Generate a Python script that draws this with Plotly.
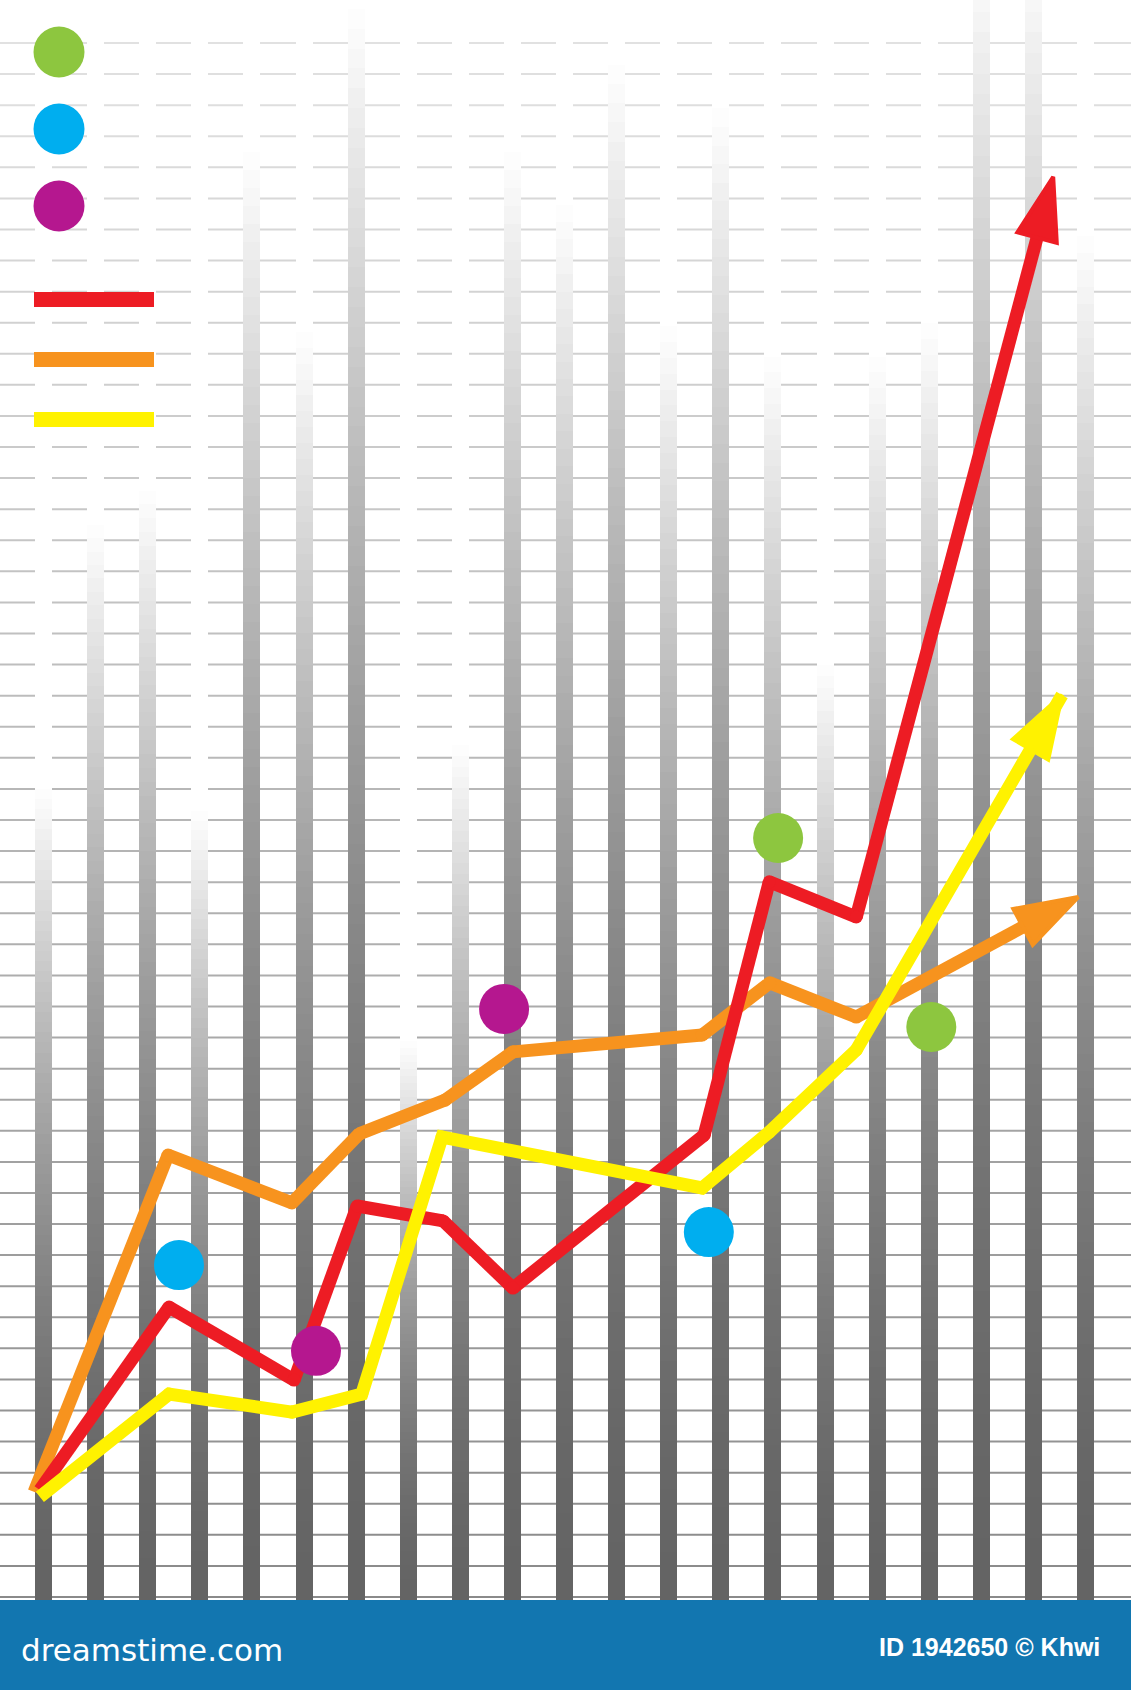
import plotly.graph_objects as go

# ---------------- data ----------------
# background columns (index) and the level where each column's grey shading begins
bar_idx = list(range(21))
bar_top = [26.0, 34.5, 35.6, 25.3, 46.5, 40.7, 51.1, 17.9, 27.4, 46.5, 44.8,
           49.3, 40.9, 47.9, 39.9, 30.0, 39.9, 41.0, 53.0, 53.0, 43.8]

# line series
red_x = [-0.07, 2.41, 4.81, 6.02, 7.67, 9.01, 12.68, 13.93, 15.60, 19.38]
red_y = [3.44, 9.33, 6.98, 12.58, 12.10, 9.94, 14.86, 23.01, 21.88, 45.69]
orange_x = [-0.18, 2.39, 4.77, 6.06, 7.71, 9.01, 12.64, 13.94, 15.60, 19.86]
orange_y = [3.38, 14.22, 12.68, 14.90, 15.99, 17.54, 18.08, 19.76, 18.66, 22.52]
yellow_x = [-0.07, 2.41, 4.77, 6.11, 7.65, 12.64, 13.93, 15.60, 19.55]
yellow_y = [3.22, 6.53, 5.95, 6.53, 14.80, 13.16, 14.96, 17.60, 29.02]

# dot series
green_x = [14.10, 17.04]
green_y = [24.42, 18.34]
blue_x = [2.60, 12.77]
blue_y = [10.68, 11.74]
purple_x = [5.23, 8.84]
purple_y = [7.92, 18.92]

grid_levels = list(range(51))

footer_left = "dreamstime.com"
footer_right = "ID 1942650 © Khwi"

# ---------------- styles ----------------
RED = "#ED1C24"
ORANGE = "#F7931E"
YELLOW = "#FFF200"
GREEN = "#8DC63F"
BLUE = "#00AEEF"
PURPLE = "#B5178F"
FOOTER = "#1276B0"

X_RANGE = [-0.835, 20.873]
Y_RANGE = [-0.0965, 51.383]
BAR_W = 0.326
N_SEG = 80
DARK = 100
LIGHT = 255
LINE_W = 13

fig = go.Figure()

# gradient columns, built as stacked segments
y0 = Y_RANGE[0]
for k in range(N_SEG):
    t = (k + 0.5) / N_SEG
    g = int(round(DARK + (LIGHT - DARK) * t ** 1.7))
    col = f"rgb({g},{g},{g})"
    bases = [y0 + (h - y0) * k / N_SEG for h in bar_top]
    hts = [(h - y0) / N_SEG * 1.03 for h in bar_top]
    fig.add_trace(go.Bar(x=bar_idx, y=hts, base=bases, width=BAR_W,
                         marker=dict(color=col, line=dict(width=0)),
                         hoverinfo="skip"))
# white upper parts of the columns
cap = Y_RANGE[1] + 2
fig.add_trace(go.Bar(x=bar_idx, y=[max(cap - h, 0) for h in bar_top], base=bar_top,
                     width=BAR_W, marker=dict(color="white", line=dict(width=0)),
                     hoverinfo="skip"))


def arrow_line(xs, ys, color):
    n = len(xs)
    return go.Scatter(
        x=xs, y=ys, mode="lines+markers",
        line=dict(color=color, width=LINE_W),
        marker=dict(symbol=["circle"] * (n - 1) + ["arrow"],
                    size=[LINE_W] * (n - 1) + [66], angleref="previous",
                    color=color, opacity=1,
                    line=dict(width=[0] * (n - 1) + [4], color=color)),
        hoverinfo="skip")


fig.add_trace(arrow_line(orange_x, orange_y, ORANGE))
fig.add_trace(arrow_line(red_x, red_y, RED))
fig.add_trace(arrow_line(yellow_x, yellow_y, YELLOW))

for xs, ys, c in [(green_x, green_y, GREEN), (blue_x, blue_y, BLUE), (purple_x, purple_y, PURPLE)]:
    fig.add_trace(go.Scatter(x=xs, y=ys, mode="markers",
                             marker=dict(size=50, color=c, opacity=1, line=dict(width=0)),
                             hoverinfo="skip"))

shapes = []
# horizontal guide lines, darker towards the bottom
for lv in grid_levels:
    f = lv / grid_levels[-1]
    g = int(round(138 + (225 - 138) * f))
    shapes.append(dict(type="line", xref="paper", yref="y", x0=0, x1=1, y0=lv, y1=lv,
                       line=dict(color=f"rgb({g},{g},{g})", width=2), layer="below"))

# legend swatches (top-left)
PLOT_W, PLOT_H = 1131, 1600
for i, c in enumerate([GREEN, BLUE, PURPLE]):
    cy = 1 - (52 + 77 * i) / PLOT_H
    shapes.append(dict(type="circle", xref="paper", yref="paper",
                       xsizemode="pixel", ysizemode="pixel",
                       xanchor=59 / PLOT_W, yanchor=cy,
                       x0=-25.5, x1=25.5, y0=-25.5, y1=25.5,
                       fillcolor=c, line=dict(width=0), layer="above"))
for i, c in enumerate([RED, ORANGE, YELLOW]):
    cy = 1 - (299.5 + 60 * i) / PLOT_H
    shapes.append(dict(type="rect", xref="paper", yref="paper",
                       ysizemode="pixel", yanchor=cy,
                       x0=34 / PLOT_W, x1=154 / PLOT_W, y0=-7.5, y1=7.5,
                       fillcolor=c, line=dict(width=0), layer="above"))

annotations = [
    dict(text=footer_left, xref="paper", yref="paper", x=19 / PLOT_W,
         y=(PLOT_H - 1650) / PLOT_H, xanchor="left", yanchor="middle", showarrow=False,
         font=dict(family="DejaVu Sans", size=31, color="white")),
    dict(text=footer_right, xref="paper", yref="paper", x=1102 / PLOT_W,
         y=(PLOT_H - 1647) / PLOT_H, xanchor="right", yanchor="middle", showarrow=False,
         font=dict(family="Liberation Sans", size=25, color="white", weight="bold")),
]

fig.update_layout(
    width=1131, height=1690,
    margin=dict(l=0, r=0, t=0, b=90, pad=0),
    paper_bgcolor=FOOTER, plot_bgcolor="white",
    showlegend=False, barmode="overlay", bargap=0,
    xaxis=dict(range=X_RANGE, visible=False, fixedrange=True),
    yaxis=dict(range=Y_RANGE, visible=False, fixedrange=True),
    shapes=shapes, annotations=annotations,
)

fig.write_html("out.html", config={"displayModeBar": False},
               post_script="document.body.style.margin='0';document.body.style.overflow='hidden';")
